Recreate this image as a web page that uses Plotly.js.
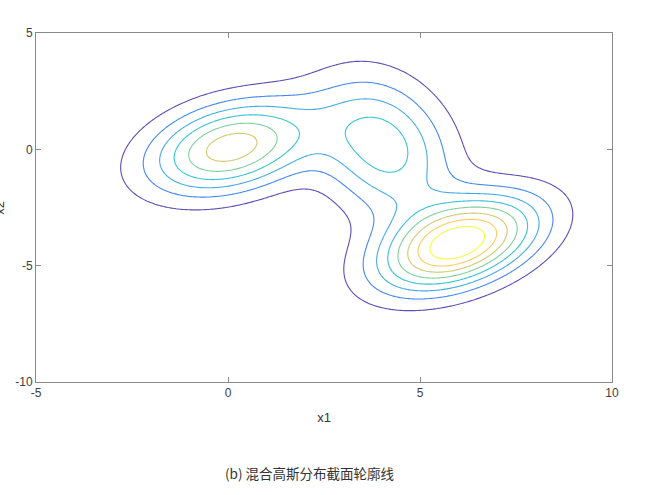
<!DOCTYPE html>
<html>
<head>
<meta charset="utf-8">
<script src="https://cdn.plot.ly/plotly-3.0.1.min.js"></script>
<style>html,body{margin:0;padding:0;background:#fff;}#chart{width:661px;height:495px;}</style>
</head>
<body>
<div id="chart"></div>
<script>
// Mixture components (centre, spread, correlation, peak height in contour steps)
var compNames = ['left', 'middle', 'right'];
var meanX = [0.070, 4.069, 6.016];
var meanY = [0.079, 0.101, -4.045];
var sdX = [1.476, 1.214, 1.423];
var sdY = [1.382, 2.084, 1.383];
var corr = [0.320, -0.237, 0.430];
var peak = [6.578, 4.510, 8.735];

// contour levels (in contour steps) and axis ticks
var levelStart = 1, levelEnd = 8, levelStep = 1;
var xTicks = [-5, 0, 5, 10];
var yTicks = [-10, -5, 0, 5];
var xRange = [-5, 10];
var yRange = [-10, 5];

// parula-like colours for the 8 levels
var levelColors = ['#3e26a8', '#1e6fee', '#1c9ae0', '#0db6cc', '#63c887', '#c7be54', '#fcc23d', '#f9fa14'];

// evaluation grid
var gx = [], gy = [];
for (var i = 0; i <= 300; i++) gx.push(xRange[0] + i * 0.05);
for (var j = 0; j <= 300; j++) gy.push(yRange[0] + j * 0.05);
var gz = gy.map(function (yy) {
  return gx.map(function (xx) {
    var s = 0;
    for (var k = 0; k < meanX.length; k++) {
      var a = (xx - meanX[k]) / sdX[k];
      var b = (yy - meanY[k]) / sdY[k];
      var r = corr[k];
      var q = (a * a + b * b - 2 * r * a * b) / (1 - r * r);
      s += peak[k] * Math.exp(-0.5 * q);
    }
    return s;
  });
});

var cs = levelColors.map(function (c, i) { return [i / (levelColors.length - 1), c]; });

var trace = {
  type: 'contour',
  x: gx, y: gy, z: gz,
  autocontour: false,
  contours: {start: levelStart, end: levelEnd, size: levelStep, coloring: 'lines'},
  line: {width: 1.1, smoothing: 1},
  opacity: 0.82,
  colorscale: cs,
  showscale: false,
  hoverinfo: 'skip'
};

var axisCommon = {
  showgrid: false, zeroline: false, showline: true, linecolor: '#8a8a8a', linewidth: 1,
  mirror: 'ticks', ticks: 'inside', ticklen: 5, tickcolor: '#8a8a8a', tickwidth: 1,
  tickfont: {family: 'Liberation Sans, Arial, sans-serif', size: 12, color: '#404040'}
};

var layout = {
  width: 661, height: 495,
  margin: {l: 36, r: 49, t: 33, b: 113},
  paper_bgcolor: '#ffffff', plot_bgcolor: '#ffffff',
  showlegend: false,
  xaxis: Object.assign({}, axisCommon, {
    range: xRange, tickvals: xTicks, ticktext: xTicks.map(String),
    title: {text: 'x1', font: {family: 'Liberation Sans, Arial, sans-serif', size: 13, color: '#333333'}, standoff: 13}
  }),
  yaxis: Object.assign({}, axisCommon, {
    range: yRange, tickvals: yTicks, ticktext: yTicks.map(String)
  }),
  annotations: [
    {text: 'x2', xref: 'paper', yref: 'paper', x: -0.064, y: 0.5, xanchor: 'center', yanchor: 'middle',
     textangle: -90, showarrow: false, font: {family: 'Liberation Sans, Arial, sans-serif', size: 13, color: '#333333'}},
    {text: '(b) 混合高斯分布截面轮廓线', xref: 'paper', yref: 'paper', x: 0.475, y: -0.261,
     xanchor: 'center', yanchor: 'middle', showarrow: false,
     font: {family: 'Noto Sans CJK SC, sans-serif', size: 13.5, color: '#333333'}}
  ]
};

Plotly.newPlot('chart', [trace], layout, {staticPlot: true, displayModeBar: false});
</script>
</body>
</html>
